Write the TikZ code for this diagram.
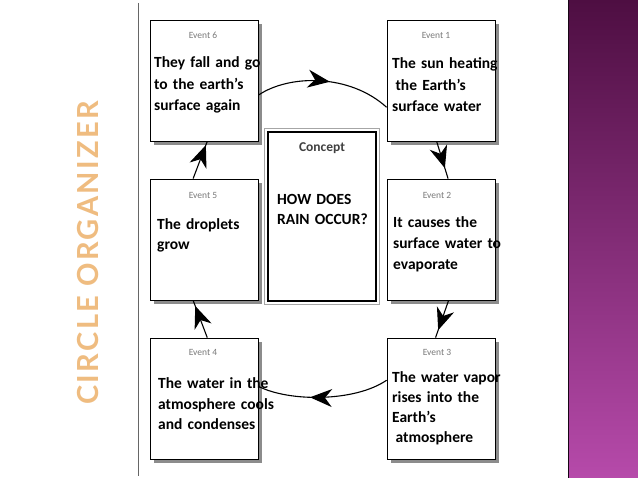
\documentclass[tikz,border=0pt]{standalone}
\usepackage{fontspec}
\setmainfont{Carlito}
\newfontfamily\titlefont[LetterSpace=8]{Lato}
\usetikzlibrary{arrows.meta,decorations.markings,calc,shadows}
\definecolor{titleorange}{HTML}{EFBC80}
\definecolor{bandtop}{HTML}{4E0E42}
\definecolor{bandmid}{HTML}{7A2B6F}
\definecolor{bandbot}{HTML}{B64AAA}
\definecolor{labelgray}{HTML}{7A7A7A}
\tikzset{
  evbox/.style={draw=black, line width=0.8pt, fill=white, minimum width=108pt, minimum height=121pt, inner sep=0pt,
    drop shadow={shadow xshift=4pt, shadow yshift=-4pt, fill=black!45, opacity=1}},
  evlabel/.style={font=\fontsize{9.5}{10}\selectfont, text=labelgray, inner sep=0pt},
  evtext/.style={anchor=base west, inner sep=0pt, text width=130pt, align=left,
    font=\bfseries\fontsize{15.5}{#1}\selectfont},
  conn/.style={draw=black, line width=1.1pt},
  midarrow/.style={decoration={markings, mark=at position #1 with {\arrow{Stealth[length=22pt,width=18pt,inset=7pt]}}}, postaction={decorate}}
}
\begin{document}
\begin{tikzpicture}[x=1pt,y=-1pt]
\useasboundingbox (0,0) rectangle (638,478);
\fill[white] (0,0) rectangle (638,478);
% right band
\shade[top color=bandtop, middle color=bandmid, bottom color=bandbot] (568,0) rectangle (638,478);
\draw[black!70!bandtop, line width=1.5pt] (568.5,0) -- (568.5,478);
% divider
\draw[black!60, line width=0.8pt] (138,3) -- (138,476);
% title
\node[rotate=90, font=\titlefont\bfseries\fontsize{29}{29}\selectfont, text=titleorange, draw=none] (title) at (88,253) {CIRCLE ORGANIZER};
% boxes
\node[evbox] (e6) at (204,80.5) {};
\node[evbox] (e1) at (441,80.5) {};
\node[evbox] (e5) at (204,239.5) {};
\node[evbox] (e2) at (441,239.5) {};
\node[evbox] (e4) at (204,398.5) {};
\node[evbox] (e3) at (441,398.5) {};
% concept
\node[draw=black, line width=2.4pt, fill=white, minimum width=108pt, minimum height=169pt, inner sep=0pt] (cc) at (322,216.5) {};
\draw[black!35, line width=0.8pt] ($(cc.north west)+(-2.5,-2.5)$) rectangle ($(cc.south east)+(2.5,2.5)$);
% connectors
\draw[conn, midarrow=0.54] ($(e6.north east)!0.62!(e6.south east)$) .. controls (290,74) and (350,74) .. ($(e1.north west)!0.72!(e1.south west)$);
\draw[conn, midarrow=0.72] ($(e1.south west)!0.46!(e1.south east)$) -- ($(e2.north west)!0.565!(e2.north east)$);
\draw[conn, midarrow=0.8] ($(e2.south west)!0.57!(e2.south east)$) -- ($(e3.north west)!0.45!(e3.north east)$);
\draw[conn, midarrow=0.6] ($(e3.north west)!0.35!(e3.south west)$) .. controls (355,402) and (289,402) .. ($(e4.north east)!0.4!(e4.south east)$);
\draw[conn, midarrow=0.85] ($(e4.north west)!0.53!(e4.north east)$) -- ($(e5.south west)!0.40!(e5.south east)$);
\draw[conn, midarrow=0.9] ($(e5.north west)!0.40!(e5.north east)$) -- ($(e6.south west)!0.53!(e6.south east)$);
% labels
\node[evlabel] (l6) at (203,35) {Event 6};
\node[evlabel] (l1) at (436,35) {Event 1};
\node[evlabel] (l5) at (203,195) {Event 5};
\node[evlabel] (l2) at (437,195) {Event 2};
\node[evlabel] (l4) at (203,352) {Event 4};
\node[evlabel] (l3) at (437,352) {Event 3};
\node[font=\bfseries\fontsize{13.5}{14}\selectfont, text=black!75, inner sep=0pt] (lc) at (322,148) {Concept};
% texts
\node[evtext=21.5] (t6) at (154,68) {They fall and go\\to the earth's\\surface again};
\node[evtext=21.5] (t1) at (392,69) {The sun heating\\\hspace*{0.22em}the Earth's\\surface water};
\node[evtext=20] (t5) at (157,230) {The droplets\\grow};
\node[evtext=21] (t2) at (393,228) {It causes the\\surface water to\\evaporate};
\node[evtext=20.5] (t4) at (158,389) {The water in the\\atmosphere cools\\and condenses};
\node[evtext=20] (t3) at (392,383) {The water vapor\\rises into the\\Earth's\\\hspace*{0.22em}atmosphere};
\node[evtext=20] (tc) at (277,205) {HOW DOES\\RAIN OCCUR?};
\end{tikzpicture}
\end{document}
